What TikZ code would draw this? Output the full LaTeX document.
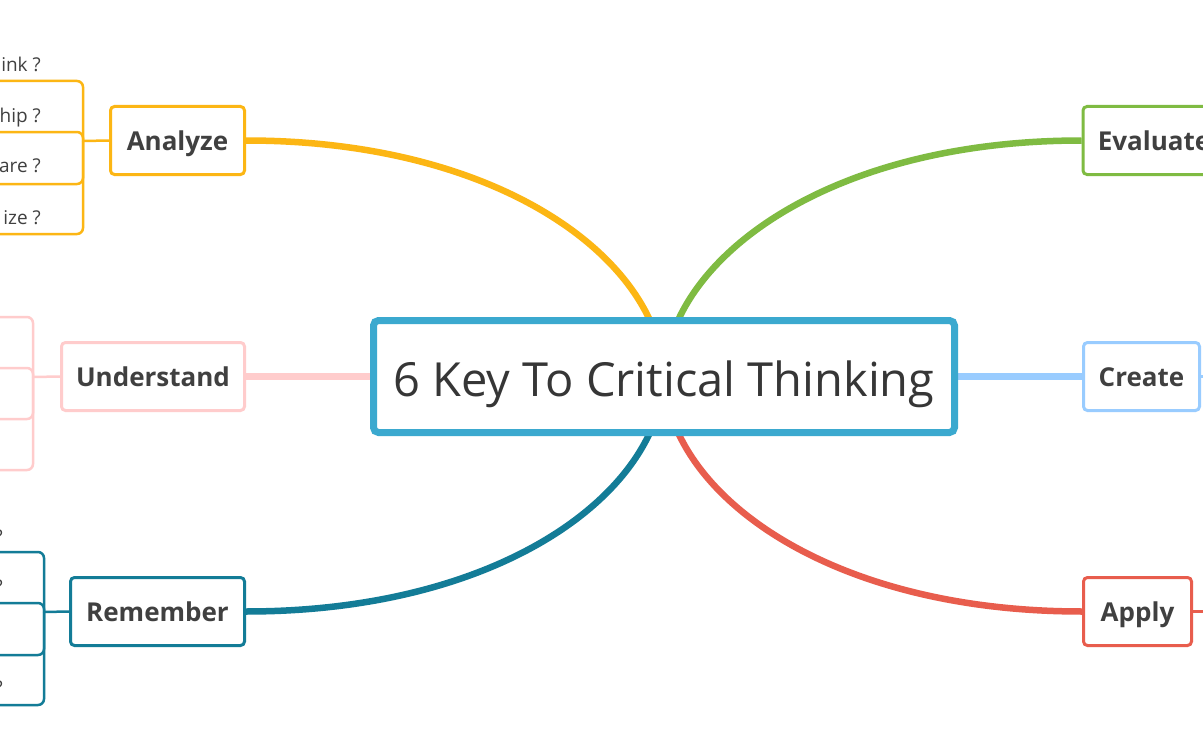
\documentclass[tikz,border=0pt]{standalone}
\usepackage{fontspec}
\setmainfont{Open Sans}
\usepackage{tikz}
\usetikzlibrary{positioning}

\definecolor{keyblue}{HTML}{3BA9CF}
\definecolor{amber}{HTML}{FCB614}
\definecolor{grass}{HTML}{7FBB42}
\definecolor{blush}{HTML}{FFCCCC}
\definecolor{sky}{HTML}{99CCFF}
\definecolor{teal}{HTML}{137C97}
\definecolor{coral}{HTML}{E85D4D}
\definecolor{ink}{HTML}{404040}

\pgfdeclarelayer{bg}
\pgfsetlayers{bg,main}

\begin{document}
\begin{tikzpicture}[x=1pt, y=-1pt, line cap=round,
  topic/.style={draw, fill=white, rounded corners=4pt, line width=3pt, text=ink,
    font=\bfseries\fontsize{26}{26}\selectfont, minimum height=68pt,
    text height=22pt, text depth=3pt},
  subtext/.style={anchor=base east, inner sep=0pt, text=ink, font=\fontsize{19}{19}\selectfont},
  trunk/.style={line width=6.5pt},
  twig/.style={line width=2.5pt, rounded corners=6pt}]

\clip (0,0) rectangle (1203,752);

% centre
\node[draw=keyblue, fill=white, line width=7pt, rounded corners=5pt, text=ink!85!black,
  minimum width=581pt, minimum height=112pt, font=\fontsize{47}{47}\selectfont,
  text height=45pt, text depth=5pt]
  (key) at (664,376.5) {6 Key To Critical Thinking};

% main topics
\node[topic, draw=amber, minimum width=134pt] (analyze)    at (177.5,140.5) {Analyze};
\node[topic, draw=blush, minimum width=183pt] (understand) at (153,376.5)   {Understand};
\node[topic, draw=teal,  minimum width=174pt] (remember)   at (157.5,611.5) {Remember};
\node[topic, draw=grass, minimum width=142pt] (evaluate)   at (1154,140.5)  {Evaluate};
\node[topic, draw=sky,   minimum width=116pt] (create)     at (1141.5,376.5){Create};
\node[topic, draw=coral, minimum width=108pt] (apply)      at (1137.5,611.5){Apply};

% sub topics (cut by the page edge)
\node[subtext] (a1) at (41,72)  {ink ?};
\node[subtext] (a2) at (41,122) {hip ?};
\node[subtext] (a3) at (41,172) {are ?};
\node[subtext] (a4) at (41,224) {ize ?};
\node[subtext] (r1) at (3,543) {?};
\node[subtext] (r2) at (3,593) {?};
\node[subtext] (r4) at (3,694) {?};

\coordinate (ja) at (83,141);
\coordinate (ju) at (33,377);
\coordinate (jr) at (44,612);
\foreach \n/\y in {1/81,2/132,3/184,4/234}  {\coordinate (la\n) at (-20,\y);}
\foreach \n/\y in {1/317,2/368,3/419,4/470} {\coordinate (lu\n) at (-20,\y);}
\foreach \n/\y in {1/552,2/603,3/655,4/705} {\coordinate (lr\n) at (-20,\y);}

\begin{pgfonlayer}{bg}
  \fill[white] (0,0) rectangle (1203,752);
  % main branches
  \draw[trunk, amber] (analyze.east) .. controls +(255,0) and +(-5,-117) .. (key.center);
  \draw[trunk, grass] (evaluate.west) .. controls +(-255,0) and +(5,-117) .. (key.center);
  \draw[trunk, teal]  (remember.east) .. controls +(255,0) and +(-5,117) .. (key.center);
  \draw[trunk, coral] (apply.west) .. controls +(-255,0) and +(5,117) .. (key.center);
  \draw[trunk, blush] (understand) -- (key);
  \draw[trunk, sky]   (key) -- (create);

  % sub branches
  \draw[twig, amber] (analyze.west) -- (ja);
  \draw[twig, blush] (understand.west) -- (ju);
  \draw[twig, teal]  (remember.west) -- (jr);
  \foreach \n in {1,...,4} {
    \draw[twig, amber] (ja) |- (la\n);
    \draw[twig, blush] (ju) |- (lu\n);
    \draw[twig, teal]  (jr) |- (lr\n);
  }
  \draw[twig, sky]   (create.east) -- +(12,0);
  \draw[twig, coral] (apply.east) -- +(15,0);
\end{pgfonlayer}
\end{tikzpicture}
\end{document}
